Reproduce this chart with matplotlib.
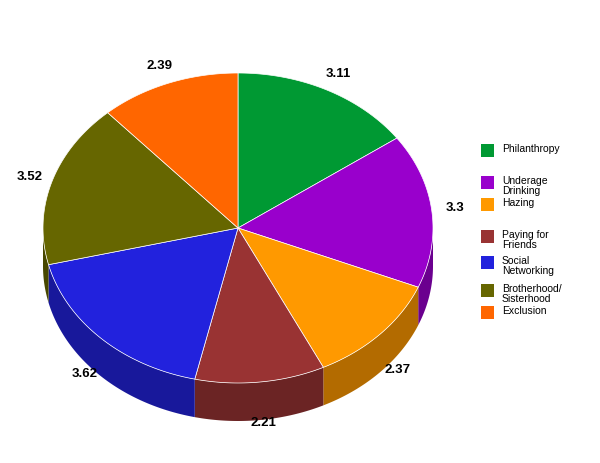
import matplotlib
matplotlib.use('Agg')
import matplotlib.pyplot as plt
import numpy as np
from matplotlib.patches import Polygon, Rectangle

labels = ['Philanthropy', 'Underage\nDrinking', 'Hazing', 'Paying for\nFriends',
          'Social\nNetworking', 'Brotherhood/\nSisterhood', 'Exclusion']
values = [3.11, 3.3, 2.37, 2.21, 3.62, 3.52, 2.39]
colors = ['#009933', '#9900cc', '#ff9900', '#993333', '#2222dd', '#666600', '#ff6600']
legend_y = [150, 182, 204, 236, 262, 290, 312]

cx, cy, rx, ry, depth = 238, 228, 195, 155, 38

fig = plt.figure(figsize=(6, 4.63), dpi=100)
ax = fig.add_axes([0, 0, 1, 1])
ax.set_xlim(0, 600)
ax.set_ylim(463, 0)
ax.axis('off')

def pt(t, dy=0):
    return cx + rx * np.sin(t), cy - ry * np.cos(t) + dy

def darker(c, f=0.7):
    r, g, b = matplotlib.colors.to_rgb(c)
    return (r * f, g * f, b * f)

total = sum(values)
bounds = np.concatenate([[0], np.cumsum(values)]) / total * 2 * np.pi

# side walls (front half only)
for i in range(len(values)):
    a0, a1 = max(bounds[i], np.pi / 2), min(bounds[i + 1], 3 * np.pi / 2)
    if a1 <= a0:
        continue
    t = np.linspace(a0, a1, 60)
    top = [pt(a) for a in t]
    bot = [pt(a, depth) for a in t[::-1]]
    ax.add_patch(Polygon(top + bot, closed=True, facecolor=darker(colors[i]), edgecolor='none'))

# top faces
for i in range(len(values)):
    t = np.linspace(bounds[i], bounds[i + 1], 80)
    poly = [(cx, cy)] + [pt(a) for a in t]
    ax.add_patch(Polygon(poly, closed=True, facecolor=colors[i], edgecolor='white', linewidth=0.5))
    mid = (bounds[i] + bounds[i + 1]) / 2
    lx = cx + rx * 1.12 * np.sin(mid)
    ly = cy - ry * 1.12 * np.cos(mid) + (depth * 0.6 if np.cos(mid) < 0 else 0)
    ax.text(lx, ly, f'{values[i]:g}', ha='center', va='center', fontsize=9.5,
            fontweight='bold', family='Liberation Sans')

# legend
for i, lab in enumerate(labels):
    y = legend_y[i]
    ax.add_patch(Rectangle((481, y - 6), 13, 13, facecolor=colors[i], edgecolor='none'))
    ax.text(502, y - 6, lab, ha='left', va='top', fontsize=7.5, family='Liberation Sans',
            linespacing=0.95)

fig.savefig('out.png', dpi=100)
